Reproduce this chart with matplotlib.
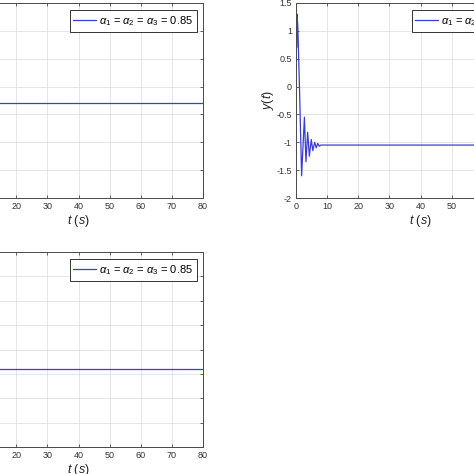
import matplotlib
matplotlib.use("Agg")
import matplotlib.pyplot as plt
import numpy as np

plt.rcParams['font.family'] = ['Liberation Sans', 'DejaVu Sans']
plt.rcParams['mathtext.fontset'] = 'custom'
plt.rcParams['mathtext.it'] = 'Liberation Sans:italic'
plt.rcParams['mathtext.rm'] = 'Liberation Sans'

# ---- data ----
t_span = [0, 80]
x1_level = [-0.3, -0.3]          # top-left panel (flat)
x3_level = [-0.4, -0.4]          # bottom-left panel (flat)

# top-right panel: y(t) transient, then steady
t_y = [0, 0.1, 0.2, 0.3, 0.45, 0.6, 1.2, 1.8, 2.7, 3.2, 3.75, 4.3, 4.9, 5.4,
       6.0, 6.5, 7.0, 7.5, 8.0, 80]
y_vals = [0.35, 1.25, 0.7, 1.3, 1.2, 1.05, -0.2, -1.6, -0.55, -1.35, -0.82,
          -1.25, -0.95, -1.15, -1.0, -1.1, -1.02, -1.07, -1.05, -1.05]

x_ticks = list(range(0, 81, 10))
legend_label = r'$\alpha_1$ = $\alpha_2$ = $\alpha_3$ = 0.85'
line_color = '#3b3bd6'
frame_color = '#4a4a4a'

W = 474.0
fig = plt.figure(figsize=(4.74, 4.74), dpi=100)

def px_axes(left, top, width, height):
    return fig.add_axes([left / W, (W - top - height) / W, width / W, height / W])

def style(ax, ylim, ystep, cropped_left=False):
    ax.set_xlim(0, 80)
    ax.set_ylim(*ylim)
    ax.set_xticks(x_ticks)
    ax.set_yticks(np.arange(ylim[0], ylim[1] + 1e-9, ystep))
    if cropped_left:
        # the left part of these panels lies outside the picture
        ax.set_xticklabels(['', ''] + [str(v) for v in x_ticks[2:]])
        ax.set_yticklabels([])
    ax.tick_params(direction='in', length=2.5, width=0.6, labelsize=6.5,
                   colors=frame_color, top=True, right=True, pad=3)
    ax.tick_params(labelcolor='#333333')
    for s in ax.spines.values():
        s.set_color(frame_color)
        s.set_linewidth(0.7)
    ax.grid(True, color='#dcdcdc', linewidth=0.5)
    ax.set_axisbelow(True)
    ax.set_xlabel(r'$t$ ($s$)', fontsize=9, labelpad=1, color='#222222')
    leg = ax.legend(loc='upper right', bbox_to_anchor=(0.976, 0.964),
                    borderaxespad=0, fancybox=False, fontsize=8,
                    handlelength=2.0, handletextpad=0.3, borderpad=0.35,
                    edgecolor='#333333', framealpha=1)
    leg.get_frame().set_linewidth(0.7)

# top-left
ax1 = px_axes(-46, 3, 249, 195)
ax1.plot(t_span, x1_level, color=line_color, linewidth=0.9, label=legend_label)
style(ax1, (-2, 1.5), 0.5, cropped_left=True)

# top-right
ax2 = px_axes(296, 3, 249, 195)
ax2.plot(t_y, y_vals, color=line_color, linewidth=0.9, label=legend_label)
style(ax2, (-2, 1.5), 0.5)
ax2.set_yticklabels(['-2', '-1.5', '-1', '-0.5', '0', '0.5', '1', '1.5'])
ax2.set_ylabel(r'$y$($t$)', fontsize=9, labelpad=0, color='#222222')

# bottom-left
ax3 = px_axes(-46, 252, 249, 195)
ax3.plot(t_span, x3_level, color=line_color, linewidth=0.9, label=legend_label)
style(ax3, (-2, 2), 0.5, cropped_left=True)

fig.savefig('out.png', dpi=100)
